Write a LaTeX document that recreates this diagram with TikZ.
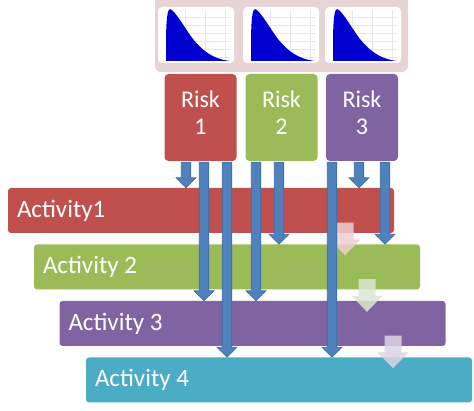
\documentclass[tikz,border=0pt]{standalone}
\usepackage{fontspec}
\setmainfont{Carlito}
\usetikzlibrary{calc}
\definecolor{cred}{HTML}{C0504D}
\definecolor{cgreen}{HTML}{9BBB59}
\definecolor{cpurple}{HTML}{8064A2}
\definecolor{cteal}{HTML}{4BACC6}
\definecolor{afill}{HTML}{4F81BD}
\definecolor{adraw}{HTML}{3C6AA0}
\definecolor{pinkframe}{HTML}{E8D4D4}
\definecolor{curveblue}{HTML}{0000D0}
\definecolor{gridc}{HTML}{E6E6EE}
\definecolor{palered}{HTML}{EBCFCF}
\definecolor{palegreen}{HTML}{DCE6CF}
\definecolor{palepurple}{HTML}{DCD4E4}
\begin{document}
\begin{tikzpicture}[x=1pt,y=-1pt,
  riskbox/.style={minimum width=72pt,minimum height=87pt,rounded corners=4pt,inner sep=0pt},
  risktext/.style={text=white,font=\fontsize{24}{27}\selectfont,align=center,inner sep=0pt},
  actbox/.style={minimum height=45pt,text width=368pt,inner xsep=9pt,inner ysep=0pt,
    align=flush left,rounded corners=3pt,text=white,font=\fontsize{25}{30}\selectfont},
  fatarrow/.style n args={5}{to path={let \p1=(\tikztostart), \p2=(\tikztotarget) in
    (\x1-#1,\y1-#4) -- (\x1+#1,\y1-#4) -- (\x1+#1,\y2+#3+#5) -- (\x1+#2,\y2+#3+#5)
    -- (\x1,\y2+#5) -- (\x1-#2,\y2+#3+#5) -- (\x1-#1,\y2+#3+#5) -- cycle}},
  bluearrow/.style={fill=afill,draw=adraw,line width=0.6pt,fatarrow={4.75pt}{10pt}{10pt}{1pt}{0pt}},
  palearrow/.style={draw=none,fill opacity=0.85,fatarrow={8.5pt}{15.5pt}{16pt}{-10.5pt}{-11pt}},
  chart/.pic={
    \fill[white,rounded corners=4pt] (0,0) rectangle (76,56);
    \foreach \gx in {27,47,67} \draw[gridc,line width=0.4pt] (\gx,3) -- (\gx,54);
    \foreach \gy in {10,18,26,34,42,50} \draw[gridc,line width=0.4pt] (8,\gy) -- (72,\gy);
    \fill[curveblue] (8,54) -- (8,32) .. controls (8.3,12) and (9.5,2) .. (12,2)
      .. controls (16,3) and (24,16) .. (32,28)
      .. controls (42,42) and (54,52) .. (72,54) -- cycle;
  }
]
\useasboundingbox (0,0) rectangle (474,411);
% top frame with charts
\fill[pinkframe,rounded corners=6pt] (155,-6) rectangle (408,72);
\pic at (158,7) {chart};
\pic at (243,7) {chart};
\pic at (325,7) {chart};
% risk boxes
\node[riskbox,fill=cred] (r1) at (200.5,117.5) {};
\node[riskbox,fill=cgreen] (r2) at (281.5,117.5) {};
\node[riskbox,fill=cpurple] (r3) at (362,117.5) {};
\node[risktext] (t1) at ([yshift=4.5pt]r1.center) {Risk\\1};
\node[risktext] (t2) at ([yshift=4.5pt]r2.center) {Risk\\2};
\node[risktext] (t3) at ([yshift=4.5pt]r3.center) {Risk\\3};
% activity bars
\node[actbox,fill=cred] (a1) at (201,210.5) {Activity1};
\node[actbox,fill=cgreen] (a2) at (227,267) {Activity 2};
\node[actbox,fill=cpurple] (a3) at (252.5,323.5) {Activity 3};
\node[actbox,fill=cteal] (a4) at (279,380) {Activity 4};
% pale arrows between activities
\draw[palearrow,fill=palered] ([xshift=144pt]a1.south) to (a2.north);
\draw[palearrow,fill=palegreen] ([xshift=140pt]a2.south) to (a3.north);
\draw[palearrow,fill=palepurple] ([xshift=140.5pt]a3.south) to (a4.north);
% blue arrows from risks to activities
\draw[bluearrow] ([xshift=-14.5pt]r1.south) to (a1.north);
\draw[bluearrow] ([xshift=3.5pt]r1.south) to (a3.north);
\draw[bluearrow] ([xshift=26.5pt]r1.south) to (a4.north);
\draw[bluearrow] ([xshift=-25.5pt]r2.south) to (a3.north);
\draw[bluearrow] ([xshift=-2.5pt]r2.south) to (a2.north);
\draw[bluearrow] ([xshift=-30pt]r3.south) to (a4.north);
\draw[bluearrow] ([xshift=-3pt]r3.south) to (a1.north);
\draw[bluearrow] ([xshift=23pt]r3.south) to (a2.north);
\end{tikzpicture}
\end{document}
